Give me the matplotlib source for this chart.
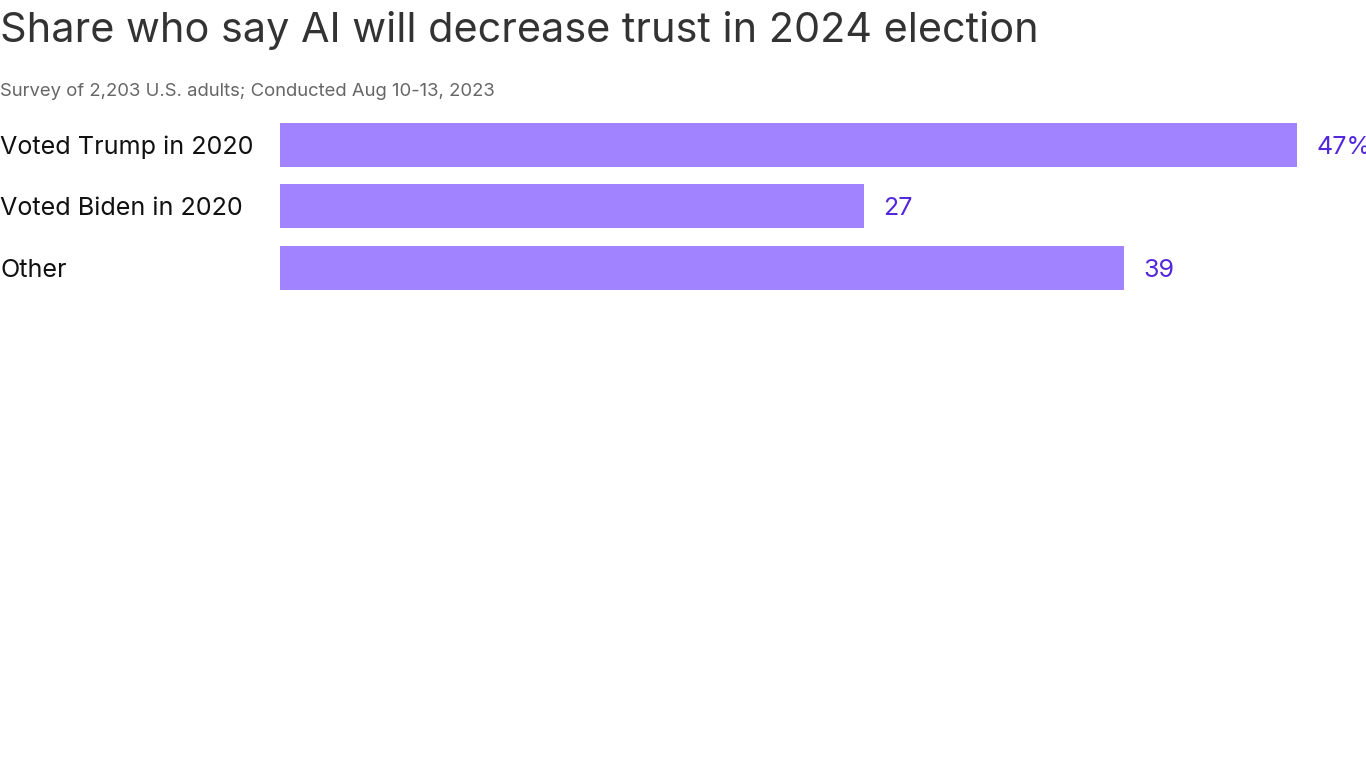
"""Horizontal bar chart: share who say AI will decrease trust in 2024 election."""

import matplotlib
matplotlib.use('Agg')
import matplotlib.pyplot as plt

plt.rcParams['font.family'] = ['Inter', 'DejaVu Sans']

categories = ['Voted Trump in 2020', 'Voted Biden in 2020', 'Other']
values = [47, 27, 39]
value_labels = ['47%', '27', '39']

BAR_COLOR = '#a283ff'
LABEL_COLOR = '#5327dc'

fig = plt.figure(figsize=(13.66, 7.68), dpi=100)
fig.patch.set_facecolor('white')

# axes placed so bars start at x=280px and 1 unit ~ 21.64px
ax = fig.add_axes([280 / 1366, 1 - 299 / 768, 1086 / 1366, 185.3 / 768])
ax.set_xlim(0, 1086 / 21.64)
ax.set_ylim(2.5, -0.5)

ypos = list(range(len(categories)))
ax.barh(ypos, values, height=0.715, color=BAR_COLOR, edgecolor='none')

for y, v, lab in zip(ypos, values, value_labels):
    ax.text(v + 19 / 21.64, y, lab, va='center_baseline', ha='left', fontsize=18,
            color=LABEL_COLOR, clip_on=False)

for y, cat in zip(ypos, categories):
    ax.text(-280 / 21.64, y, cat, va='center_baseline', ha='left', fontsize=18.1,
            color='#111111', clip_on=False)

ax.axis('off')

fig.text(0, 1 - 30 / 768, 'Share who say AI will decrease trust in 2024 election',
         fontsize=29.8, color='#333333', va='center', ha='left')
fig.text(0, 1 - 91 / 768, 'Survey of 2,203 U.S. adults; Conducted Aug 10-13, 2023',
         fontsize=13.3, color='#666666', va='center', ha='left')

fig.savefig('out.png', dpi=100, facecolor='white')
